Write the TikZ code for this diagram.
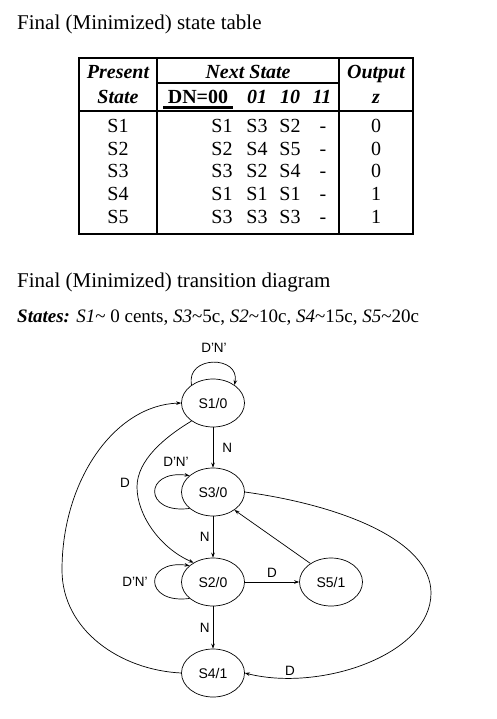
\documentclass[tikz,border=0pt]{standalone}
\usepackage{fontspec}
\setmainfont{Liberation Serif}
\newfontfamily\arialfont{Liberation Sans}
\usetikzlibrary{shapes.geometric,arrows.meta}
\begin{document}
\begin{tikzpicture}[x=1pt,y=1pt,
  title/.style={font=\fontsize{21}{24}\selectfont,anchor=base west,inner sep=0},
  tbl/.style={font=\fontsize{20}{22}\selectfont,anchor=base,inner sep=0},
  tblh/.style={font=\fontsize{20}{22}\selectfont\bfseries\itshape,anchor=base,inner sep=0},
  tline/.style={line width=1.1pt},
  st/.style={draw,ellipse,minimum width=63,minimum height=48,inner sep=0,line width=0.7pt,font=\arialfont\fontsize{14}{16}\selectfont},
  lbl/.style={font=\arialfont\fontsize{13.5}{15}\selectfont,inner sep=0},
  edge/.style={line width=0.7pt,-{Stealth[length=5pt,width=3.6pt]}}]
\useasboundingbox (0,0) rectangle (496,-719);
% titles
\node[title] (t1) at (17,-30) {Final (Minimized) state table};
\node[title] (t2) at (17,-287) {Final (Minimized) transition diagram};
\node[font=\fontsize{19}{22}\selectfont,anchor=base west,inner sep=0] (t3) at (17,-322)
  {\textbf{\textit{States:}} \textit{S1}\textasciitilde{} 0 cents, \textit{S3}\textasciitilde5c, \textit{S2}\textasciitilde10c, \textit{S4}\textasciitilde15c, \textit{S5}\textasciitilde20c};
% table frame
\draw[tline] (79,-58) rectangle (413,-234);
\draw[tline] (157,-58) -- (157,-234);
\draw[tline] (339,-58) -- (339,-234);
\draw[tline] (157,-83) -- (339,-83);
\draw[tline] (79,-111) -- (413,-111);
\draw[line width=3pt] (163,-107.5) -- (233,-107.5);
% header
\node[tblh] (hp) at (118,-78.3) {Present};
\node[tblh] (hs) at (118,-103.3) {State};
\node[tblh] (hn) at (248,-78.3) {Next State};
\node[tbl,font=\fontsize{20}{22}\selectfont\bfseries] (hdn) at (198,-103.3) {DN=00};
\node[tblh] (h01) at (257,-103.3) {01};
\node[tblh] (h10) at (290,-103.3) {10};
\node[tblh] (h11) at (322,-103.3) {11};
\node[tblh] (ho) at (376,-78.3) {Output};
\node[tblh] (hz) at (376,-103.3) {z};
% rows
\foreach \p/\a/\b/\c/\z [count=\i from 0] in {S1/S1/S3/S2/0,S2/S2/S4/S5/0,S3/S3/S2/S4/0,S4/S1/S1/S1/1,S5/S3/S3/S3/1}{
  \pgfmathsetmacro{\yy}{-132.7-22.6*\i}
  \node[tbl] (p\i) at (118,\yy) {\p};
  \node[tbl] (a\i) at (222,\yy) {\a};
  \node[tbl] (b\i) at (257,\yy) {\b};
  \node[tbl] (c\i) at (290,\yy) {\c};
  \node[tbl] (d\i) at (323,\yy) {-};
  \node[tbl] (z\i) at (376,\yy) {\z};
}
% states
\node[st] (s1) at (213,-403) {S1/0};
\node[st] (s3) at (213,-492) {S3/0};
\node[st] (s2) at (213,-582) {S2/0};
\node[st] (s4) at (213,-673) {S4/1};
\node[st] (s5) at (331,-582) {S5/1};
% self loops
\draw[edge] (s1.140) .. controls +(-6,30) and +(6,30) .. (s1.40);
\node[lbl] (l1) at (214,-348) {D’N’};
\draw[edge] (s3.215) .. controls +(-46,-6) and +(-46,6) .. (s3.145);
\node[lbl] (l3) at (176,-462) {D’N’};
\draw[edge] (s2.215) .. controls +(-46,-6) and +(-46,6) .. (s2.145);
\node[lbl] (l2) at (135,-582) {D’N’};
% straight edges
\draw[edge] (s1) -- (s3) node[lbl,midway,right=9pt] (n1) {N};
\draw[edge] (s3) -- (s2) node[lbl,midway,left=3pt] (n2) {N};
\draw[edge] (s2) -- (s4) node[lbl,midway,left=3pt] (n3) {N};
\draw[edge] (s2) -- (s5) node[lbl,midway,above=4pt] (d1) {D};
\draw[edge] (s5.138) -- (s3.-40);
% curved edges
\draw[edge] (s3.east) .. controls (340,-505) and (431,-540) .. (431,-593)
  .. controls (431,-655) and (320,-692) .. (s4.east);
\node[lbl] (d2) at (290,-671) {D};
\draw[edge] (s1.220) .. controls (165,-437) and (137,-460) .. (137,-487)
  .. controls (137,-515) and (160,-548) .. (s2.135);
\node[lbl] (d3) at (125,-483) {D};
\draw[edge] (s4.west) .. controls (120,-670) and (62,-630) .. (62,-570)
  .. controls (62,-480) and (115,-405) .. (s1.west);
\end{tikzpicture}
\end{document}
